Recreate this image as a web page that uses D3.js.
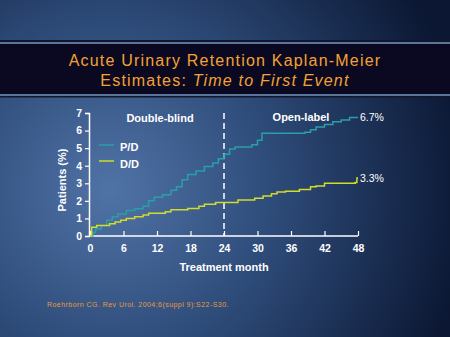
<!DOCTYPE html>
<html><head><meta charset="utf-8">
<script src="https://cdn.jsdelivr.net/npm/d3@7"></script>
<style>html,body{margin:0;padding:0;background:#0a1632;}svg{display:block;}</style>
</head><body>
<script>
const titleLine1 = "Acute Urinary Retention Kaplan-Meier";
const titleLine2a = "Estimates: ";
const titleLine2b = "Time to First Event";
const citation = "Roehrborn CG. Rev Urol. 2004;6(suppl 9):S22-S30.";
const xTicks = [0, 6, 12, 18, 24, 30, 36, 42, 48];
const yTicks = [0, 1, 2, 3, 4, 5, 6, 7];
const seriesNames = ["P/D", "D/D"];
const endLabels = ["6.7%", "3.3%"];
const pdMonths = [0,0.5,1,2,3,4,5,6.5,8,9.5,10.5,11.5,13,14.5,15.5,16.5,17.5,19,20.5,22,23,24,25,26,29,30,30.8,38.5,39.5,40.5,42,43.5,45,46.5,48];
const pdValues = [0,0.2,0.4,0.6,0.9,1.1,1.25,1.45,1.55,1.7,2.0,2.2,2.35,2.6,2.8,3.2,3.5,3.7,3.95,4.15,4.4,4.65,4.95,5.07,5.2,5.45,5.85,5.9,6.05,6.2,6.35,6.5,6.6,6.75,6.75];
const ddMonths = [0,0.3,1.2,3.5,4.5,5.5,6.5,8,9.5,10.5,13.5,14.5,17.5,19.5,20.5,22.5,26.5,29.5,31,32.5,33.5,35,37.5,39.5,40.5,42,47.5,47.8,48];
const ddValues = [0,0.5,0.6,0.7,0.8,0.9,1.0,1.1,1.2,1.3,1.38,1.5,1.57,1.7,1.8,1.9,2.05,2.15,2.27,2.4,2.5,2.55,2.65,2.8,2.85,3.0,3.05,3.3,3.3];
const phaseLabels = ["Double-blind", "Open-label"];
const phaseSplit = 24;

const W = 450, H = 337;
const svg = d3.select("body").append("svg").attr("width", W).attr("height", H);
const defs = svg.append("defs");
const rg = defs.append("radialGradient").attr("id","bg").attr("gradientUnits","userSpaceOnUse")
  .attr("cx",110).attr("cy",190).attr("r",360);
rg.append("stop").attr("offset",0).attr("stop-color","#5073a6");
rg.append("stop").attr("offset",0.45).attr("stop-color","#2e4c7a");
rg.append("stop").attr("offset",1).attr("stop-color","#0b1733");
svg.append("rect").attr("width",W).attr("height",H).attr("fill","url(#bg)");

// title band
svg.append("rect").attr("x",0).attr("y",40).attr("width",W).attr("height",2).attr("fill","#10162c");
svg.append("rect").attr("x",0).attr("y",42).attr("width",W).attr("height",2).attr("fill","#5a7598");
svg.append("rect").attr("x",0).attr("y",44).attr("width",W).attr("height",50).attr("fill","#0b0922");
svg.append("rect").attr("x",0).attr("y",94).attr("width",W).attr("height",2).attr("fill","#5a7598");
svg.append("rect").attr("x",0).attr("y",96).attr("width",W).attr("height",1.5).attr("fill","#10162c");

const tt = svg.append("g").attr("fill","#f4a232").attr("font-family","Liberation Sans, Arial, sans-serif")
  .attr("font-size",16).attr("text-anchor","middle").attr("letter-spacing","1.2");
tt.append("text").attr("x",225).attr("y",66).text(titleLine1);
const t2 = tt.append("text").attr("x",225).attr("y",86);
t2.append("tspan").text(titleLine2a);
t2.append("tspan").attr("font-style","italic").text(titleLine2b);

const x = d3.scaleLinear().domain([0,48]).range([90,358]);
const y = d3.scaleLinear().domain([0,7]).range([236,113]);

const font = "Liberation Sans, Arial, sans-serif";
// axes
const xAxis = svg.append("g").attr("transform",`translate(0,${y(0)})`)
  .call(d3.axisBottom(x).tickValues(xTicks).tickFormat(d3.format("d")).tickSize(5).tickPadding(4));
const yAxis = svg.append("g").attr("transform",`translate(${x(0)-1},0)`)
  .call(d3.axisLeft(y).tickValues(yTicks).tickFormat(d3.format("d")).tickSize(4).tickPadding(3));
[xAxis,yAxis].forEach(a=>{
  a.select(".domain").attr("stroke","#ffffff").attr("stroke-width",1.5);
  a.selectAll(".tick line").attr("stroke","#ffffff").attr("stroke-width",1.2);
  a.selectAll(".tick text").attr("fill","#ffffff").attr("font-family",font).attr("font-size",10.5).attr("font-weight","bold");
});
xAxis.selectAll(".tick line").attr("y1",-5).attr("y2",0);
xAxis.select(".domain").attr("d",`M${x(0)-1},0H${x(48)}`);

// dashed divider
svg.append("line").attr("x1",x(phaseSplit)).attr("x2",x(phaseSplit)).attr("y1",y(7)).attr("y2",y(0))
  .attr("stroke","#ffffff").attr("stroke-width",1.5).attr("stroke-dasharray","6,4");

const line = d3.line().x(d=>x(d[0])).y(d=>y(d[1])).curve(d3.curveStepAfter);
const pd = pdMonths.map((m,i)=>[m,pdValues[i]]);
const dd = ddMonths.map((m,i)=>[m,ddValues[i]]);
const colors = ["#2a9fa8","#d2dc2a"];
svg.append("path").datum(pd).attr("d",line).attr("fill","none").attr("stroke",colors[0]).attr("stroke-width",1.5);
svg.append("path").datum(dd).attr("d",line).attr("fill","none").attr("stroke",colors[1]).attr("stroke-width",1.5);

// labels
const lab = svg.append("g").attr("fill","#ffffff").attr("font-family",font);
lab.append("text").attr("x",160).attr("y",122).attr("text-anchor","middle").attr("font-size",11).attr("font-weight","bold").text(phaseLabels[0]);
lab.append("text").attr("x",301).attr("y",121).attr("text-anchor","middle").attr("font-size",11).attr("font-weight","bold").text(phaseLabels[1]);
lab.append("text").attr("x",224).attr("y",271).attr("text-anchor","middle").attr("font-size",11).attr("font-weight","bold").text("Treatment month");
lab.append("text").attr("transform","translate(66,180) rotate(-90)").attr("text-anchor","middle").attr("font-size",11).attr("font-weight","bold").text("Patients (%)");

// legend
const legY = [145, 161];
seriesNames.forEach((n,i)=>{
  svg.append("line").attr("x1",99).attr("x2",114).attr("y1",legY[i]).attr("y2",legY[i]).attr("stroke",colors[i]).attr("stroke-width",1.5);
  lab.append("text").attr("x",120).attr("y",legY[i]+6+i*1).attr("font-size",11).attr("font-weight","bold").text(n);
});
// end labels
const endVals = [pdValues[pdValues.length-1], ddValues[ddValues.length-1]];
endLabels.forEach((t,i)=>{
  lab.append("text").attr("x",x(48)+2).attr("y",y(endVals[i])+4).attr("font-size",10.5).text(t);
});

// citation
svg.append("text").attr("x",47).attr("y",307).attr("fill","#e89a3a").attr("font-family",font).attr("font-size",7)
  .attr("letter-spacing","0.45").text(citation);
</script>
</body></html>
